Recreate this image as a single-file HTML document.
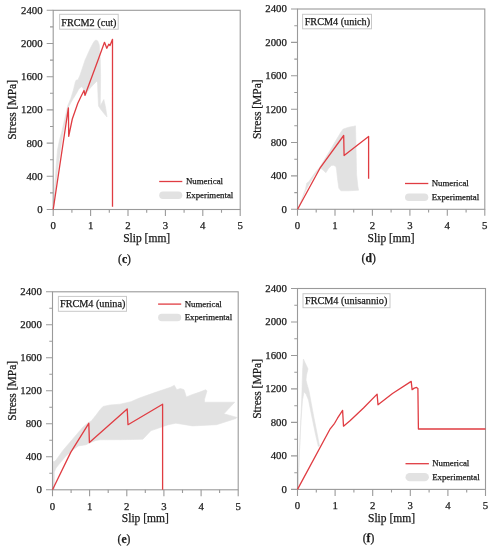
<!DOCTYPE html>
<html><head><meta charset="utf-8"><title>FRCM stress-slip</title>
<style>
html,body{margin:0;padding:0;background:#fff;}
body{width:497px;height:550px;overflow:hidden;}
svg{display:block;}
svg text{font-family:"Liberation Serif","Times New Roman",serif;fill:#1a1a1a;stroke:#1a1a1a;stroke-width:0.25px;}
</style></head><body>
<svg width="497" height="550" viewBox="0 0 497 550">
<rect width="497" height="550" fill="#fff"/>
<polygon points="53.2,209.5 54.1,194.6 56.1,167.3 57.5,150.0 59.5,140.0 62.0,131.0 64.5,120.0 67.7,105.8 70.8,98.4 73.3,90.4 75.4,81.7 76.1,80.2 78.0,79.8 80.1,75.0 85.1,60.0 90.5,48.0 94.0,41.5 96.0,40.0 97.8,41.0 99.3,45.0 100.3,60.0 100.6,76.0 100.4,95.0 100.2,106.0 103.8,99.5 105.5,107.0 107.0,117.0 104.0,113.5 100.5,109.0 98.5,106.0 98.0,95.0 97.5,82.0 96.5,81.4 93.0,85.0 89.0,89.5 86.5,93.0 85.5,95.5 84.5,92.0 83.0,88.0 81.3,86.7 78.8,89.1 76.4,93.5 73.3,98.4 70.8,102.7 68.6,107.1 66.5,118.0 64.0,128.0 62.5,136.0 60.5,150.0 58.0,167.0 55.5,190.0 54.0,205.0" fill="#e2e2e2" stroke="#e2e2e2" stroke-width="0.6" stroke-linejoin="round"/>
<rect x="53.2" y="10.3" width="187.0" height="199.2" fill="none" stroke="#9a9a9a" stroke-width="1.1"/>
<path d="M53.2 209.5V216.0M71.9 209.5V212.7M90.6 209.5V216.0M109.3 209.5V212.7M128.0 209.5V216.0M146.7 209.5V212.7M165.4 209.5V216.0M184.1 209.5V212.7M202.8 209.5V216.0M221.5 209.5V212.7M240.2 209.5V216.0M53.2 209.5H46.7M53.2 192.9H50.0M53.2 176.3H46.7M53.2 159.7H50.0M53.2 143.1H46.7M53.2 126.5H50.0M53.2 109.9H46.7M53.2 93.3H50.0M53.2 76.7H46.7M53.2 60.1H50.0M53.2 43.5H46.7M53.2 26.9H50.0M53.2 10.3H46.7" stroke="#9a9a9a" stroke-width="1.1" fill="none"/>
<text x="53.2" y="229.3" text-anchor="middle" font-size="10.8">0</text>
<text x="90.6" y="229.3" text-anchor="middle" font-size="10.8">1</text>
<text x="128.0" y="229.3" text-anchor="middle" font-size="10.8">2</text>
<text x="165.4" y="229.3" text-anchor="middle" font-size="10.8">3</text>
<text x="202.8" y="229.3" text-anchor="middle" font-size="10.8">4</text>
<text x="240.2" y="229.3" text-anchor="middle" font-size="10.8">5</text>
<text x="42.6" y="212.9" text-anchor="end" font-size="10.8">0</text>
<text x="42.6" y="179.7" text-anchor="end" font-size="10.8">400</text>
<text x="42.6" y="146.5" text-anchor="end" font-size="10.8">800</text>
<text x="42.6" y="113.3" text-anchor="end" font-size="10.8">1200</text>
<text x="42.6" y="80.1" text-anchor="end" font-size="10.8">1600</text>
<text x="42.6" y="46.9" text-anchor="end" font-size="10.8">2000</text>
<text x="42.6" y="13.7" text-anchor="end" font-size="10.8">2400</text>
<text x="146.7" y="242.0" text-anchor="middle" font-size="11.5">Slip [mm]</text>
<text transform="translate(16.4 109.9) rotate(-90)" text-anchor="middle" font-size="11.5">Stress [MPa]</text>
<rect x="59.6" y="14.3" width="58.6" height="14.9" fill="#fff" stroke="#c8c8c8" stroke-width="1"/>
<text x="61.3" y="25.5" font-size="10.2">FRCM2 (cut)</text>
<polyline points="53.2,209.5 68.4,107.9 68.7,136.3 72.3,119.0 77.8,103.3 81.0,96.5 84.0,90.5 85.0,95.3 92.8,74.2 97.7,61.0 104.5,42.3 106.8,48.3 108.8,44.2 110.0,45.5 112.5,39.3 112.5,206.7" fill="none" stroke="#e03c42" stroke-width="1.3" stroke-linejoin="round"/>
<line x1="159.2" y1="181.5" x2="182.3" y2="181.5" stroke="#e03c42" stroke-width="1.3"/>
<rect x="159.2" y="191.4" width="23.1" height="7.6" rx="3.8" fill="#e2e2e2"/>
<text x="185.9" y="184.3" font-size="8.8">Numerical</text>
<text x="185.9" y="197.7" font-size="8.8">Experimental</text>
<text x="124.5" y="262.5" text-anchor="middle" font-size="11.6">(<tspan font-weight="bold">c</tspan>)</text>
<polygon points="297.7,209.1 300.0,204.0 303.0,196.0 305.5,189.0 306.8,183.0 308.6,182.0 312.0,177.0 316.0,171.5 319.5,167.5 322.0,163.5 326.0,157.0 330.0,150.5 334.1,143.5 338.0,137.0 341.0,132.0 343.2,129.0 345.0,128.5 347.7,127.5 351.0,126.8 353.2,126.4 355.5,125.8 356.0,147.0 356.6,174.5 357.9,186.8 358.6,190.2 349.0,190.8 340.9,190.8 338.8,188.1 337.5,178.6 336.6,170.0 335.9,166.4 333.5,165.3 331.4,165.5 328.5,168.5 325.9,172.7 323.5,170.5 321.0,168.5 319.0,169.5 314.0,176.0 309.0,184.5 305.0,192.0 301.5,200.0 298.5,209.1" fill="#e2e2e2" stroke="#e2e2e2" stroke-width="0.6" stroke-linejoin="round"/>
<rect x="297.5" y="9.0" width="187.3" height="200.3" fill="none" stroke="#9a9a9a" stroke-width="1.1"/>
<path d="M297.5 209.3V215.8M316.2 209.3V212.5M335.0 209.3V215.8M353.7 209.3V212.5M372.4 209.3V215.8M391.1 209.3V212.5M409.9 209.3V215.8M428.6 209.3V212.5M447.3 209.3V215.8M466.1 209.3V212.5M484.8 209.3V215.8M297.5 209.3H291.0M297.5 192.6H294.3M297.5 175.9H291.0M297.5 159.2H294.3M297.5 142.5H291.0M297.5 125.8H294.3M297.5 109.2H291.0M297.5 92.5H294.3M297.5 75.8H291.0M297.5 59.1H294.3M297.5 42.4H291.0M297.5 25.7H294.3M297.5 9.0H291.0" stroke="#9a9a9a" stroke-width="1.1" fill="none"/>
<text x="297.5" y="229.1" text-anchor="middle" font-size="10.8">0</text>
<text x="335.0" y="229.1" text-anchor="middle" font-size="10.8">1</text>
<text x="372.4" y="229.1" text-anchor="middle" font-size="10.8">2</text>
<text x="409.9" y="229.1" text-anchor="middle" font-size="10.8">3</text>
<text x="447.3" y="229.1" text-anchor="middle" font-size="10.8">4</text>
<text x="484.8" y="229.1" text-anchor="middle" font-size="10.8">5</text>
<text x="286.9" y="212.7" text-anchor="end" font-size="10.8">0</text>
<text x="286.9" y="179.3" text-anchor="end" font-size="10.8">400</text>
<text x="286.9" y="145.9" text-anchor="end" font-size="10.8">800</text>
<text x="286.9" y="112.6" text-anchor="end" font-size="10.8">1200</text>
<text x="286.9" y="79.2" text-anchor="end" font-size="10.8">1600</text>
<text x="286.9" y="45.8" text-anchor="end" font-size="10.8">2000</text>
<text x="286.9" y="12.4" text-anchor="end" font-size="10.8">2400</text>
<text x="391.1" y="241.8" text-anchor="middle" font-size="11.5">Slip [mm]</text>
<text transform="translate(260.7 109.2) rotate(-90)" text-anchor="middle" font-size="11.5">Stress [MPa]</text>
<rect x="302.6" y="14.3" width="68.9" height="14.5" fill="#fff" stroke="#c8c8c8" stroke-width="1"/>
<text x="304.7" y="24.6" font-size="10.2">FRCM4 (unich)</text>
<polyline points="297.6,209.3 320.5,167.3 343.7,135.5 344.1,155.5 368.6,136.4 368.6,178.7" fill="none" stroke="#e03c42" stroke-width="1.3" stroke-linejoin="round"/>
<line x1="405.0" y1="183.5" x2="428.3" y2="183.5" stroke="#e03c42" stroke-width="1.3"/>
<rect x="405.0" y="193.4" width="23.3" height="7.6" rx="3.8" fill="#e2e2e2"/>
<text x="431.7" y="186.3" font-size="8.8">Numerical</text>
<text x="431.7" y="199.8" font-size="8.8">Experimental</text>
<text x="368.7" y="261.7" text-anchor="middle" font-size="11.6">(<tspan font-weight="bold">d</tspan>)</text>
<polygon points="52.5,489.8 52.5,461.5 54.5,461.5 56.5,459.5 63.1,450.2 69.7,442.6 76.2,434.9 82.8,427.3 87.1,423.5 91.5,420.7 95.9,415.3 100.0,409.8 103.0,406.5 110.0,405.0 120.0,404.2 130.9,401.7 139.3,398.1 156.2,392.1 170.7,387.2 174.3,385.3 176.8,389.7 180.4,388.5 184.0,389.7 186.4,396.9 192.5,394.5 199.7,392.1 205.7,389.7 207.0,390.9 204.5,399.3 204.5,402.2 234.7,402.2 223.9,413.8 237.1,417.4 236.0,418.5 216.6,424.7 192.5,425.9 175.9,423.2 168.3,424.7 150.8,430.8 142.9,439.2 132.0,439.5 120.0,439.7 100.0,439.8 95.9,440.4 89.3,443.1 86.0,444.8 78.4,445.9 71.8,450.8 66.0,456.0 60.0,463.0 56.0,468.0 54.3,472.0 54.3,489.8" fill="#e2e2e2" stroke="#e2e2e2" stroke-width="0.6" stroke-linejoin="round"/>
<rect x="52.5" y="291.8" width="185.7" height="198.0" fill="none" stroke="#9a9a9a" stroke-width="1.1"/>
<path d="M52.5 489.8V496.3M71.1 489.8V493.0M89.6 489.8V496.3M108.2 489.8V493.0M126.8 489.8V496.3M145.3 489.8V493.0M163.9 489.8V496.3M182.5 489.8V493.0M201.1 489.8V496.3M219.6 489.8V493.0M238.2 489.8V496.3M52.5 489.8H46.0M52.5 473.3H49.3M52.5 456.8H46.0M52.5 440.3H49.3M52.5 423.8H46.0M52.5 407.3H49.3M52.5 390.8H46.0M52.5 374.3H49.3M52.5 357.8H46.0M52.5 341.3H49.3M52.5 324.8H46.0M52.5 308.3H49.3M52.5 291.8H46.0" stroke="#9a9a9a" stroke-width="1.1" fill="none"/>
<text x="52.5" y="509.6" text-anchor="middle" font-size="10.8">0</text>
<text x="89.6" y="509.6" text-anchor="middle" font-size="10.8">1</text>
<text x="126.8" y="509.6" text-anchor="middle" font-size="10.8">2</text>
<text x="163.9" y="509.6" text-anchor="middle" font-size="10.8">3</text>
<text x="201.1" y="509.6" text-anchor="middle" font-size="10.8">4</text>
<text x="238.2" y="509.6" text-anchor="middle" font-size="10.8">5</text>
<text x="41.9" y="493.2" text-anchor="end" font-size="10.8">0</text>
<text x="41.9" y="460.2" text-anchor="end" font-size="10.8">400</text>
<text x="41.9" y="427.2" text-anchor="end" font-size="10.8">800</text>
<text x="41.9" y="394.2" text-anchor="end" font-size="10.8">1200</text>
<text x="41.9" y="361.2" text-anchor="end" font-size="10.8">1600</text>
<text x="41.9" y="328.2" text-anchor="end" font-size="10.8">2000</text>
<text x="41.9" y="295.2" text-anchor="end" font-size="10.8">2400</text>
<text x="145.3" y="522.3" text-anchor="middle" font-size="11.5">Slip [mm]</text>
<text transform="translate(15.7 390.8) rotate(-90)" text-anchor="middle" font-size="11.5">Stress [MPa]</text>
<rect x="58.4" y="296.4" width="68.1" height="14.9" fill="#fff" stroke="#c8c8c8" stroke-width="1"/>
<text x="60.0" y="307.4" font-size="10.2">FRCM4 (unina)</text>
<polyline points="52.5,489.8 70.7,452.4 88.8,423.3 89.4,442.6 127.2,409.0 128.0,424.7 162.6,404.2 162.6,489.8" fill="none" stroke="#e03c42" stroke-width="1.3" stroke-linejoin="round"/>
<line x1="158.1" y1="304.1" x2="181.2" y2="304.1" stroke="#e03c42" stroke-width="1.3"/>
<rect x="158.1" y="313.7" width="23.1" height="7.5" rx="3.8" fill="#e2e2e2"/>
<text x="184.7" y="306.7" font-size="8.8">Numerical</text>
<text x="184.7" y="319.8" font-size="8.8">Experimental</text>
<text x="124.0" y="542.5" text-anchor="middle" font-size="11.6">(<tspan font-weight="bold">e</tspan>)</text>
<polygon points="297.5,489.4 298.5,470.0 299.5,450.0 300.6,425.0 301.5,405.0 302.0,390.0 302.6,370.0 303.4,359.0 305.0,362.5 308.0,369.0 306.5,375.0 306.0,380.0 307.5,386.0 309.0,391.0 311.0,402.0 314.0,418.0 317.0,433.0 319.5,446.0 318.3,446.5 315.0,432.0 311.5,415.0 308.5,400.0 306.0,394.0 304.0,392.0 302.5,400.0 301.0,420.0 300.0,440.0 299.0,460.0 298.3,489.4" fill="#e2e2e2" stroke="#e2e2e2" stroke-width="0.6" stroke-linejoin="round"/>
<rect x="297.5" y="288.5" width="188.0" height="200.9" fill="none" stroke="#9a9a9a" stroke-width="1.1"/>
<path d="M297.5 489.4V495.9M316.3 489.4V492.6M335.1 489.4V495.9M353.9 489.4V492.6M372.7 489.4V495.9M391.5 489.4V492.6M410.3 489.4V495.9M429.1 489.4V492.6M447.9 489.4V495.9M466.7 489.4V492.6M485.5 489.4V495.9M297.5 489.4H291.0M297.5 472.7H294.3M297.5 455.9H291.0M297.5 439.2H294.3M297.5 422.4H291.0M297.5 405.7H294.3M297.5 388.9H291.0M297.5 372.2H294.3M297.5 355.5H291.0M297.5 338.7H294.3M297.5 322.0H291.0M297.5 305.2H294.3M297.5 288.5H291.0" stroke="#9a9a9a" stroke-width="1.1" fill="none"/>
<text x="297.5" y="509.2" text-anchor="middle" font-size="10.8">0</text>
<text x="335.1" y="509.2" text-anchor="middle" font-size="10.8">1</text>
<text x="372.7" y="509.2" text-anchor="middle" font-size="10.8">2</text>
<text x="410.3" y="509.2" text-anchor="middle" font-size="10.8">3</text>
<text x="447.9" y="509.2" text-anchor="middle" font-size="10.8">4</text>
<text x="485.5" y="509.2" text-anchor="middle" font-size="10.8">5</text>
<text x="286.9" y="492.8" text-anchor="end" font-size="10.8">0</text>
<text x="286.9" y="459.3" text-anchor="end" font-size="10.8">400</text>
<text x="286.9" y="425.8" text-anchor="end" font-size="10.8">800</text>
<text x="286.9" y="392.3" text-anchor="end" font-size="10.8">1200</text>
<text x="286.9" y="358.9" text-anchor="end" font-size="10.8">1600</text>
<text x="286.9" y="325.4" text-anchor="end" font-size="10.8">2000</text>
<text x="286.9" y="291.9" text-anchor="end" font-size="10.8">2400</text>
<text x="391.5" y="521.9" text-anchor="middle" font-size="11.5">Slip [mm]</text>
<text transform="translate(260.7 388.9) rotate(-90)" text-anchor="middle" font-size="11.5">Stress [MPa]</text>
<rect x="303.0" y="293.7" width="87.0" height="14.0" fill="#fff" stroke="#c8c8c8" stroke-width="1"/>
<text x="305.0" y="304.1" font-size="10.2">FRCM4 (unisannio)</text>
<polyline points="297.5,489.4 330.2,428.8 334.6,423.3 337.5,418.2 342.6,410.4 343.5,426.2 350.0,420.8 363.5,408.0 377.1,394.1 378.0,404.8 392.5,393.5 411.2,381.4 412.1,389.6 414.3,388.1 416.5,387.4 417.9,388.5 418.4,429.0 485.5,429.0" fill="none" stroke="#e03c42" stroke-width="1.3" stroke-linejoin="round"/>
<line x1="405.5" y1="463.7" x2="428.9" y2="463.7" stroke="#e03c42" stroke-width="1.3"/>
<rect x="405.5" y="473.0" width="23.4" height="8.3" rx="4.2" fill="#e2e2e2"/>
<text x="432.2" y="466.2" font-size="8.8">Numerical</text>
<text x="432.2" y="479.9" font-size="8.8">Experimental</text>
<text x="368.5" y="542.3" text-anchor="middle" font-size="11.6">(<tspan font-weight="bold">f</tspan>)</text>
</svg>
</body></html>
